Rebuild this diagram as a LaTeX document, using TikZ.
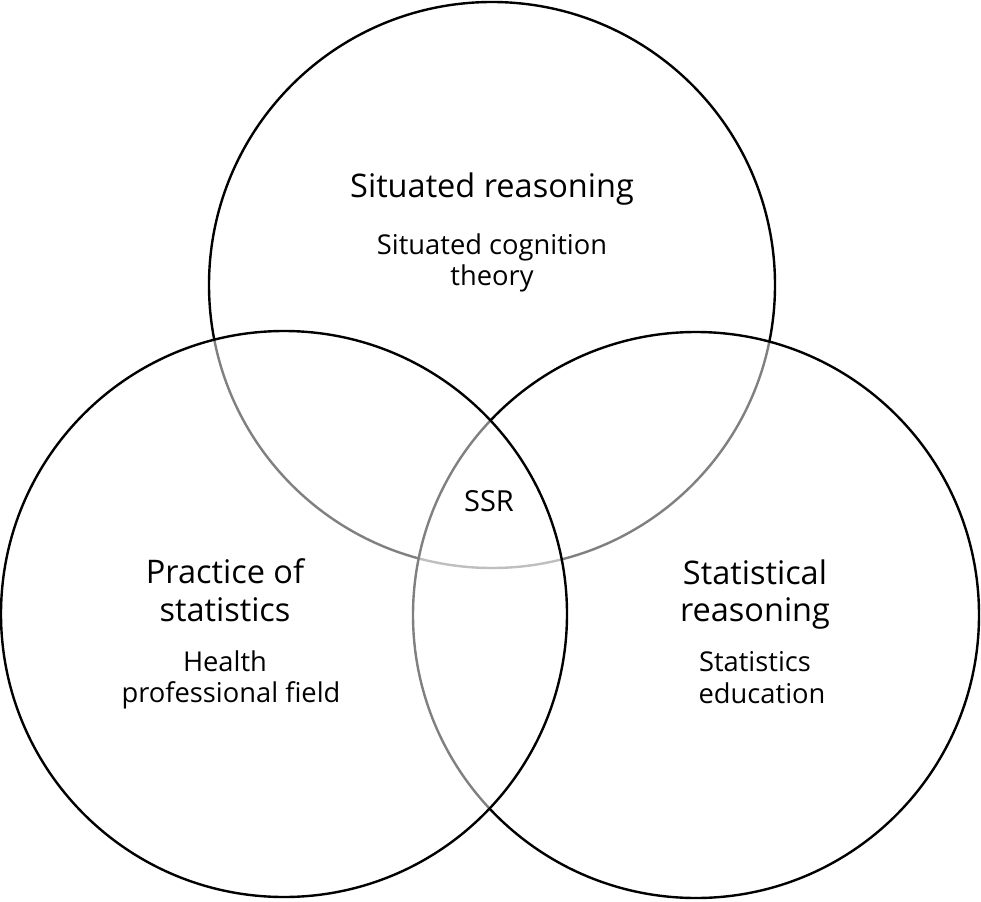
\documentclass[tikz,border=0pt]{standalone}
\usepackage{fontspec}
\setmainfont{Open Sans}
\begin{document}
\begin{tikzpicture}[x=1pt,y=-1pt,
  ring/.style={draw=black,line width=2.4pt,fill=white,fill opacity=0.5},
  head/.style={inner sep=0pt,anchor=base,font=\fontsize{32.5}{37}\selectfont},
  sub/.style={inner sep=0pt,anchor=base,font=\fontsize{27.3}{31}\selectfont}]
\fill[white] (0,0) rectangle (981,901);
\useasboundingbox (0,0) rectangle (981,901);
% circles: top, right, left (draw order gives the grey inner arcs)
\path[ring] (492,285) circle[radius=283] coordinate (ctop);
\path[ring] (696,615) circle[radius=283] coordinate (cright);
\path[ring] (284,614) circle[radius=283] coordinate (cleft);
% texts
\node[head] (t1) at (492,198) {Situated reasoning};
\node[sub] (t1a) at (492,254) {Situated cognition};
\node[sub] (t1b) at (492,285) {theory};
\node[head,font=\fontsize{29}{32}\selectfont] (ssr) at (489,511) {SSR};
\node[head] (t2) at (225,583) {Practice of};
\node[head] (t2b) at (225,621) {statistics};
\node[sub] (t2c) at (225,671) {Health};
\node[sub] (t2d) at (231,702) {professional field};
\node[head] (t3) at (755,584) {Statistical};
\node[head] (t3b) at (755,621) {reasoning};
\node[sub] (t3c) at (755,671) {Statistics};
\node[sub] (t3d) at (762,703) {education};
\end{tikzpicture}
\end{document}
